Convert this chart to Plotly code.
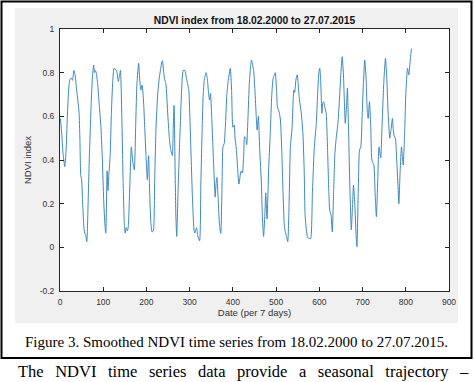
import plotly.graph_objects as go

# Week index (per 7 days) and smoothed NDVI values
weeks = [1, 4, 7, 11, 14, 17, 20, 23, 26, 29, 32, 35, 38, 42, 44, 46, 48, 50, 52, 55, 57, 59, 62,
         65, 68, 72, 75, 78, 80, 82, 84, 87, 91, 95, 98, 101, 104, 106,
         109, 111, 113, 116, 119, 122, 125, 128, 131, 135, 138, 140, 143, 146, 149, 151, 153, 156, 158,
         161, 165, 168, 172, 175, 178, 182, 184, 187, 190, 193, 196, 199, 202, 205, 207, 210, 213, 216,
         219, 222, 226, 230, 234, 237, 240, 242, 245, 249, 253, 256, 260, 262, 264, 266, 268, 270,
         273, 277, 281, 285, 289, 292, 295, 298, 302, 306, 310, 312, 314, 316, 319, 323,
         326, 329, 331, 334, 338, 341, 344, 346, 348, 351, 355, 359, 361, 363, 366, 369, 372,
         375, 377, 380, 383, 386, 389, 394, 397, 400, 403, 405, 408, 411, 414, 417, 419, 422, 425, 427,
         430, 432, 435, 438, 441, 443, 446, 448, 451, 454, 456, 459, 462, 466, 468, 471, 474, 476, 479,
         483, 486, 490, 493, 496, 498, 501, 503, 507, 510, 513, 516, 519, 521, 524, 527,
         530, 533, 537, 539, 541, 543, 546, 549, 551, 554, 558, 562, 565, 567, 570, 573, 577, 580,
         584, 588, 591, 593, 596, 599, 601, 603, 606, 608, 610, 613, 616, 619, 622, 624, 627, 630,
         633, 636, 639, 643, 646, 650, 653, 656, 660, 663, 665, 668, 671, 674, 677, 679, 682, 685, 687,
         690, 693, 696, 699, 702, 705, 708, 711, 713, 716, 719, 721, 723, 726, 729, 732,
         735, 738, 742, 745, 749, 753, 756, 759, 763, 766, 769, 771, 773, 776, 779, 782, 784,
         787, 790, 792, 794, 797, 800, 804, 807, 810, 813]

ndvi = [0.59, 0.52, 0.43, 0.37, 0.44, 0.60, 0.72, 0.77, 0.775, 0.765, 0.81, 0.79, 0.73, 0.66, 0.62, 0.50, 0.33, 0.31, 0.22, 0.10, 0.065, 0.06, 0.026,
        0.20, 0.42, 0.65, 0.78, 0.835, 0.80, 0.81, 0.80, 0.75, 0.65, 0.54, 0.40, 0.22, 0.10, 0.065,
        0.35, 0.26, 0.33, 0.42, 0.62, 0.76, 0.82, 0.815, 0.81, 0.76, 0.79, 0.81, 0.60, 0.30, 0.10, 0.065, 0.09, 0.075, 0.095,
        0.25, 0.46, 0.40, 0.354, 0.55, 0.75, 0.843, 0.78, 0.72, 0.743, 0.68, 0.55, 0.42, 0.31, 0.42, 0.28, 0.12, 0.07, 0.075,
        0.30, 0.54, 0.70, 0.78, 0.83, 0.855, 0.80, 0.77, 0.75, 0.62, 0.50, 0.45, 0.42, 0.55, 0.65, 0.40, 0.15, 0.05,
        0.25, 0.49, 0.70, 0.81, 0.81, 0.78, 0.75, 0.72, 0.50, 0.25, 0.08, 0.065, 0.08, 0.09, 0.05, 0.03,
        0.30, 0.55, 0.69, 0.77, 0.80, 0.77, 0.70, 0.675, 0.705, 0.60, 0.40, 0.23, 0.29, 0.32, 0.22, 0.10, 0.064,
        0.30, 0.46, 0.475, 0.57, 0.70, 0.76, 0.82, 0.72, 0.55, 0.56, 0.50, 0.45, 0.36, 0.29, 0.33, 0.35, 0.34, 0.42, 0.507,
        0.50, 0.47, 0.60, 0.75, 0.83, 0.858, 0.83, 0.81, 0.72, 0.60, 0.537, 0.60, 0.45, 0.29, 0.15, 0.05, 0.15, 0.25, 0.13,
        0.37, 0.50, 0.70, 0.774, 0.79, 0.80, 0.72, 0.644, 0.62, 0.583, 0.45, 0.25, 0.10, 0.072, 0.05, 0.026,
        0.20, 0.46, 0.55, 0.65, 0.72, 0.71, 0.77, 0.79, 0.75, 0.675, 0.62, 0.52, 0.35, 0.15, 0.08, 0.045, 0.04, 0.04,
        0.25, 0.446, 0.52, 0.568, 0.70, 0.80, 0.82, 0.77, 0.614, 0.66, 0.667, 0.64, 0.61, 0.45, 0.25, 0.17, 0.15, 0.07,
        0.25, 0.43, 0.50, 0.568, 0.66, 0.80, 0.873, 0.78, 0.568, 0.65, 0.73, 0.50, 0.25, 0.08, 0.20, 0.285, 0.20, 0.06, 0.003,
        0.25, 0.446, 0.46, 0.60, 0.75, 0.858, 0.78, 0.62, 0.59, 0.667, 0.55, 0.41, 0.39, 0.38, 0.25, 0.14,
        0.30, 0.46, 0.41, 0.55, 0.75, 0.866, 0.78, 0.62, 0.50, 0.54, 0.59, 0.54, 0.51, 0.50, 0.40, 0.28, 0.20,
        0.35, 0.46, 0.42, 0.377, 0.50, 0.70, 0.82, 0.79, 0.85, 0.91]

x_ticks = [0, 100, 200, 300, 400, 500, 600, 700, 800, 900]
y_ticks = [-0.2, 0, 0.2, 0.4, 0.6, 0.8, 1]
y_tick_labels = ["-0.2", "0", "0.2", "0.4", "0.6", "0.8", "1"]

W, H = 474, 382
L, R, T, B = 60, 449, 29, 291  # plot area in pixels


def px(x):
    return (x - L) / (R - L)


def py(y):
    return (B - y) / (B - T)


fig = go.Figure()
fig.add_trace(go.Scatter(
    x=weeks, y=ndvi, mode="lines",
    line=dict(color="#3A88C8", width=1, shape="spline", smoothing=0.5),
    hoverinfo="skip", showlegend=False,
))

axis_common = dict(
    showline=True, linecolor="#262626", linewidth=1, mirror="ticks",
    ticks="inside", ticklen=4, tickcolor="#262626", tickwidth=1,
    showgrid=False, zeroline=False, ticklabelstandoff=3,
    tickfont=dict(family="Liberation Sans, Arial", size=8.5, color="#333333"),
)

gap = "\u00a0\u00a0\u2009"
body_words = ["The", "NDVI", "time", "series", "data", "provide", "a", "seasonal", "trajectory", "–"]

fig.update_layout(
    width=W, height=H,
    margin=dict(l=L, r=W - R, t=T, b=H - B, autoexpand=False),
    paper_bgcolor="white", plot_bgcolor="white",
    xaxis=dict(range=[0, 900], tickvals=x_ticks, ticktext=[str(v) for v in x_ticks],
               title=dict(text="Date (per 7 days)", standoff=3,
                          font=dict(family="Liberation Sans, Arial", size=9.5, color="#333333")),
               **axis_common),
    yaxis=dict(range=[-0.2, 1], tickvals=y_ticks, ticktext=y_tick_labels,
               title=dict(text="NDVI index", standoff=6,
                          font=dict(family="Liberation Sans, Arial", size=9.5, color="#333333")),
               **axis_common),
    title=dict(text="<b>NDVI index from 18.02.2000 to 27.07.2015</b>",
               x=(254.5) / W, xanchor="center", y=1 - 20 / H, yanchor="middle",
               font=dict(family="Liberation Sans, Arial", size=10.3, color="#111111")),
    shapes=[
        dict(type="rect", xref="paper", yref="paper", layer="below",
             x0=px(15), x1=px(458), y0=py(323), y1=py(8),
             fillcolor="#F0F0F0", line=dict(width=0)),
        dict(type="rect", xref="paper", yref="paper", layer="below",
             x0=0, x1=1, y0=0, y1=1, fillcolor="white", line=dict(width=0)),
        dict(type="rect", xref="paper", yref="paper", layer="above",
             x0=px(1.5), x1=px(471.5), y0=py(358), y1=py(1.5),
             fillcolor="rgba(0,0,0,0)", line=dict(color="black", width=2)),
    ],
    annotations=[
        dict(text="Figure 3. Smoothed NDVI time series from 18.02.2000 to 27.07.2015.",
             xref="paper", yref="paper", x=px(236.5), y=py(342),
             xanchor="center", yanchor="middle", showarrow=False,
             font=dict(family="Liberation Serif, Times New Roman", size=15, color="black")),
        dict(text=gap.join(body_words),
             xref="paper", yref="paper", x=px(16), y=py(371),
             xanchor="left", yanchor="middle", showarrow=False,
             font=dict(family="Liberation Serif, Times New Roman", size=16.5, color="black")),
    ],
)

fig.write_html("out.html", config={"displayModeBar": False},
               post_script="document.body.style.margin='0';document.body.style.overflow='hidden';")
